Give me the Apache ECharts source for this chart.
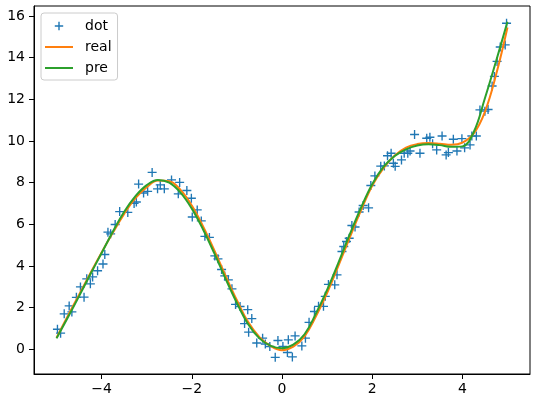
<!DOCTYPE html>
<html><head><meta charset="utf-8">
<script src="https://cdn.jsdelivr.net/npm/echarts@6/dist/echarts.min.js"></script>
<style>html,body{margin:0;padding:0;background:#fff}#c{width:539px;height:399px}</style>
</head><body><div id="c"></div>
<script>
const dotX = [-4.98,-4.91,-4.83,-4.72,-4.66,-4.56,-4.47,-4.39,-4.33,-4.25,
  -4.20,-4.09,-3.97,-3.93,-3.86,-3.80,-3.70,-3.60,-3.42,-3.28,
  -3.23,-3.18,-3.07,-2.98,-2.88,-2.76,-2.70,-2.61,-2.45,-2.30,
  -2.27,-2.11,-2.01,-1.99,-1.88,-1.79,-1.71,-1.61,-1.49,-1.42,
  -1.34,-1.27,-1.19,-1.11,-1.03,-0.93,-0.76,-0.83,-0.67,-0.74,
  -0.56,-0.43,-0.37,-0.27,-0.15,-0.09,0.02,0.14,0.12,0.23,
  0.29,0.44,0.52,0.60,0.72,0.81,0.92,0.96,1.03,1.17,
  1.22,1.33,1.37,1.43,1.49,1.55,1.62,1.71,1.80,1.92,
  1.97,2.06,2.19,2.27,2.34,2.42,2.47,2.51,2.65,2.71,
  2.79,2.84,2.94,3.06,3.21,3.28,3.34,3.43,3.55,3.64,
  3.69,3.80,3.88,3.99,4.05,4.17,4.21,4.31,4.39,4.50,
  4.57,4.66,4.71,4.77,4.84,4.95,4.98];
const dotY = [0.96,0.77,1.70,2.08,1.79,2.49,2.99,2.50,3.38,3.14,
  3.47,3.77,4.09,4.55,5.62,5.54,5.99,6.61,6.57,7.00,
  7.07,7.93,7.50,7.58,8.49,7.70,7.89,7.70,8.13,7.46,
  8.01,7.62,7.25,6.35,6.69,6.16,5.42,5.37,4.48,4.34,
  3.83,3.52,3.33,2.90,2.15,2.05,1.90,1.23,1.47,0.82,
  0.30,0.53,0.25,0.13,-0.39,0.42,0.13,0.45,-0.16,-0.37,
  0.64,0.16,0.53,1.29,1.81,2.06,2.06,2.54,3.11,3.09,
  3.57,4.69,4.93,5.17,5.33,5.94,5.87,6.59,6.90,6.79,
  7.86,8.32,8.79,8.80,9.29,9.41,8.93,8.78,9.09,9.41,
  9.41,9.52,10.31,9.41,10.13,10.18,9.86,9.57,10.24,9.33,
  9.44,10.08,9.52,10.11,9.67,9.81,10.24,10.24,11.49,11.43,
  11.51,12.64,13.10,13.82,14.51,14.61,15.65];
const curveX = [-5,-4.75,-4.5,-4.25,-4,-3.75,-3.5,-3.25,-3,-2.75,
  -2.5,-2.25,-2,-1.75,-1.5,-1.25,-1,-0.75,-0.5,-0.25,
  0,0.25,0.5,0.75,1,1.25,1.5,1.75,2,2.25,
  2.5,2.75,3,3.25,3.5,3.75,4,4.25,4.5,4.75,5];
const realY = [0.55,1.60,2.62,3.65,4.65,5.60,6.50,7.25,7.78,8.10,
  8.07,7.65,6.90,5.90,4.75,3.52,2.35,1.30,0.58,0.15,
  -0.05,0.12,0.62,1.57,2.70,4.00,5.35,6.65,7.85,8.70,
  9.30,9.68,9.85,9.90,9.87,9.82,9.92,10.35,11.40,13.20,15.45];
const preY = [0.52,1.52,2.55,3.60,4.62,5.65,6.60,7.35,7.88,8.13,
  8.00,7.52,6.75,5.75,4.60,3.38,2.22,1.20,0.52,0.16,
  0.05,0.22,0.72,1.70,2.85,4.15,5.50,6.78,7.92,8.75,
  9.28,9.60,9.78,9.84,9.80,9.72,9.74,10.42,12.05,13.85,15.72];
const xTicks = [-4,-2,0,2,4];
const yTicks = [0,2,4,6,8,10,12,14,16];

const FONT = 'DejaVu Sans';
const fmt = v => (v < 0 ? '\u2212' + Math.abs(v) : String(v));
const plusSym = 'path://M0,4.25H10V5.75H0ZM4.25,0H5.75V10H4.25Z';
const dotData = dotX.map((x, i) => [x, dotY[i]]);
const realData = curveX.map((x, i) => [x, realY[i]]);
const preData = curveX.map((x, i) => [x, preY[i]]);

const chart = echarts.init(document.getElementById('c'), null, {renderer: 'canvas'});
chart.setOption({
  animation: false,
  backgroundColor: '#fff',
  textStyle: {fontFamily: FONT},
  grid: {left: 34, right: 9, top: 6, bottom: 25, show: true, borderColor: '#000', borderWidth: 1, backgroundColor: 'transparent'},
  xAxis: {
    type: 'value', min: -5.5, max: 5.5,
    axisLine: {show: true, onZero: false, lineStyle: {color: '#000', width: 1}},
    axisTick: {show: true, customValues: xTicks, length: 5, lineStyle: {color: '#000', width: 1}},
    axisLabel: {customValues: xTicks, formatter: fmt, color: '#000', fontSize: 14, margin: 8, fontFamily: FONT},
    splitLine: {show: false}
  },
  yAxis: {
    type: 'value', min: -1.19, max: 16.48,
    axisLine: {show: true, onZero: false, lineStyle: {color: '#000', width: 1}},
    axisTick: {show: true, customValues: yTicks, length: 5, lineStyle: {color: '#000', width: 1}},
    axisLabel: {customValues: yTicks, formatter: fmt, color: '#000', fontSize: 14, margin: 9, fontFamily: FONT},
    splitLine: {show: false}
  },
  legend: {
    left: 41, top: 13, orient: 'vertical',
    padding: [6, 6, 5, 4], itemGap: 7, itemWidth: 35, itemHeight: 14,
    borderColor: '#cccccc', borderWidth: 1, borderRadius: 3,
    backgroundColor: 'rgba(255,255,255,0.8)',
    textStyle: {fontSize: 14, color: '#000', fontFamily: FONT},
    itemStyle: {borderWidth: 0},
    data: [
      {name: 'dot', icon: 'path://M0,0M35,14M9.8,6.3H18.2V7.7H9.8ZM13.3,2.8H14.7V11.2H13.3Z'},
      {name: 'real', icon: 'path://M0,0M35,14M0,6H28V8H0Z'},
      {name: 'pre', icon: 'path://M0,0M35,14M0,6H28V8H0Z'}
    ]
  },
  series: [
    {name: 'dot', type: 'scatter', data: dotData, symbol: plusSym, symbolSize: 9,
     itemStyle: {color: '#1f77b4', opacity: 1}},
    {name: 'real', type: 'line', data: realData, showSymbol: false, symbol: 'none', smooth: 0.4,
     lineStyle: {color: '#ff7f0e', width: 2}, itemStyle: {color: '#ff7f0e'}},
    {name: 'pre', type: 'line', data: preData, showSymbol: false, symbol: 'none', smooth: 0.4,
     lineStyle: {color: '#2ca02c', width: 2}, itemStyle: {color: '#2ca02c'}}
  ]
});
</script></body></html>
